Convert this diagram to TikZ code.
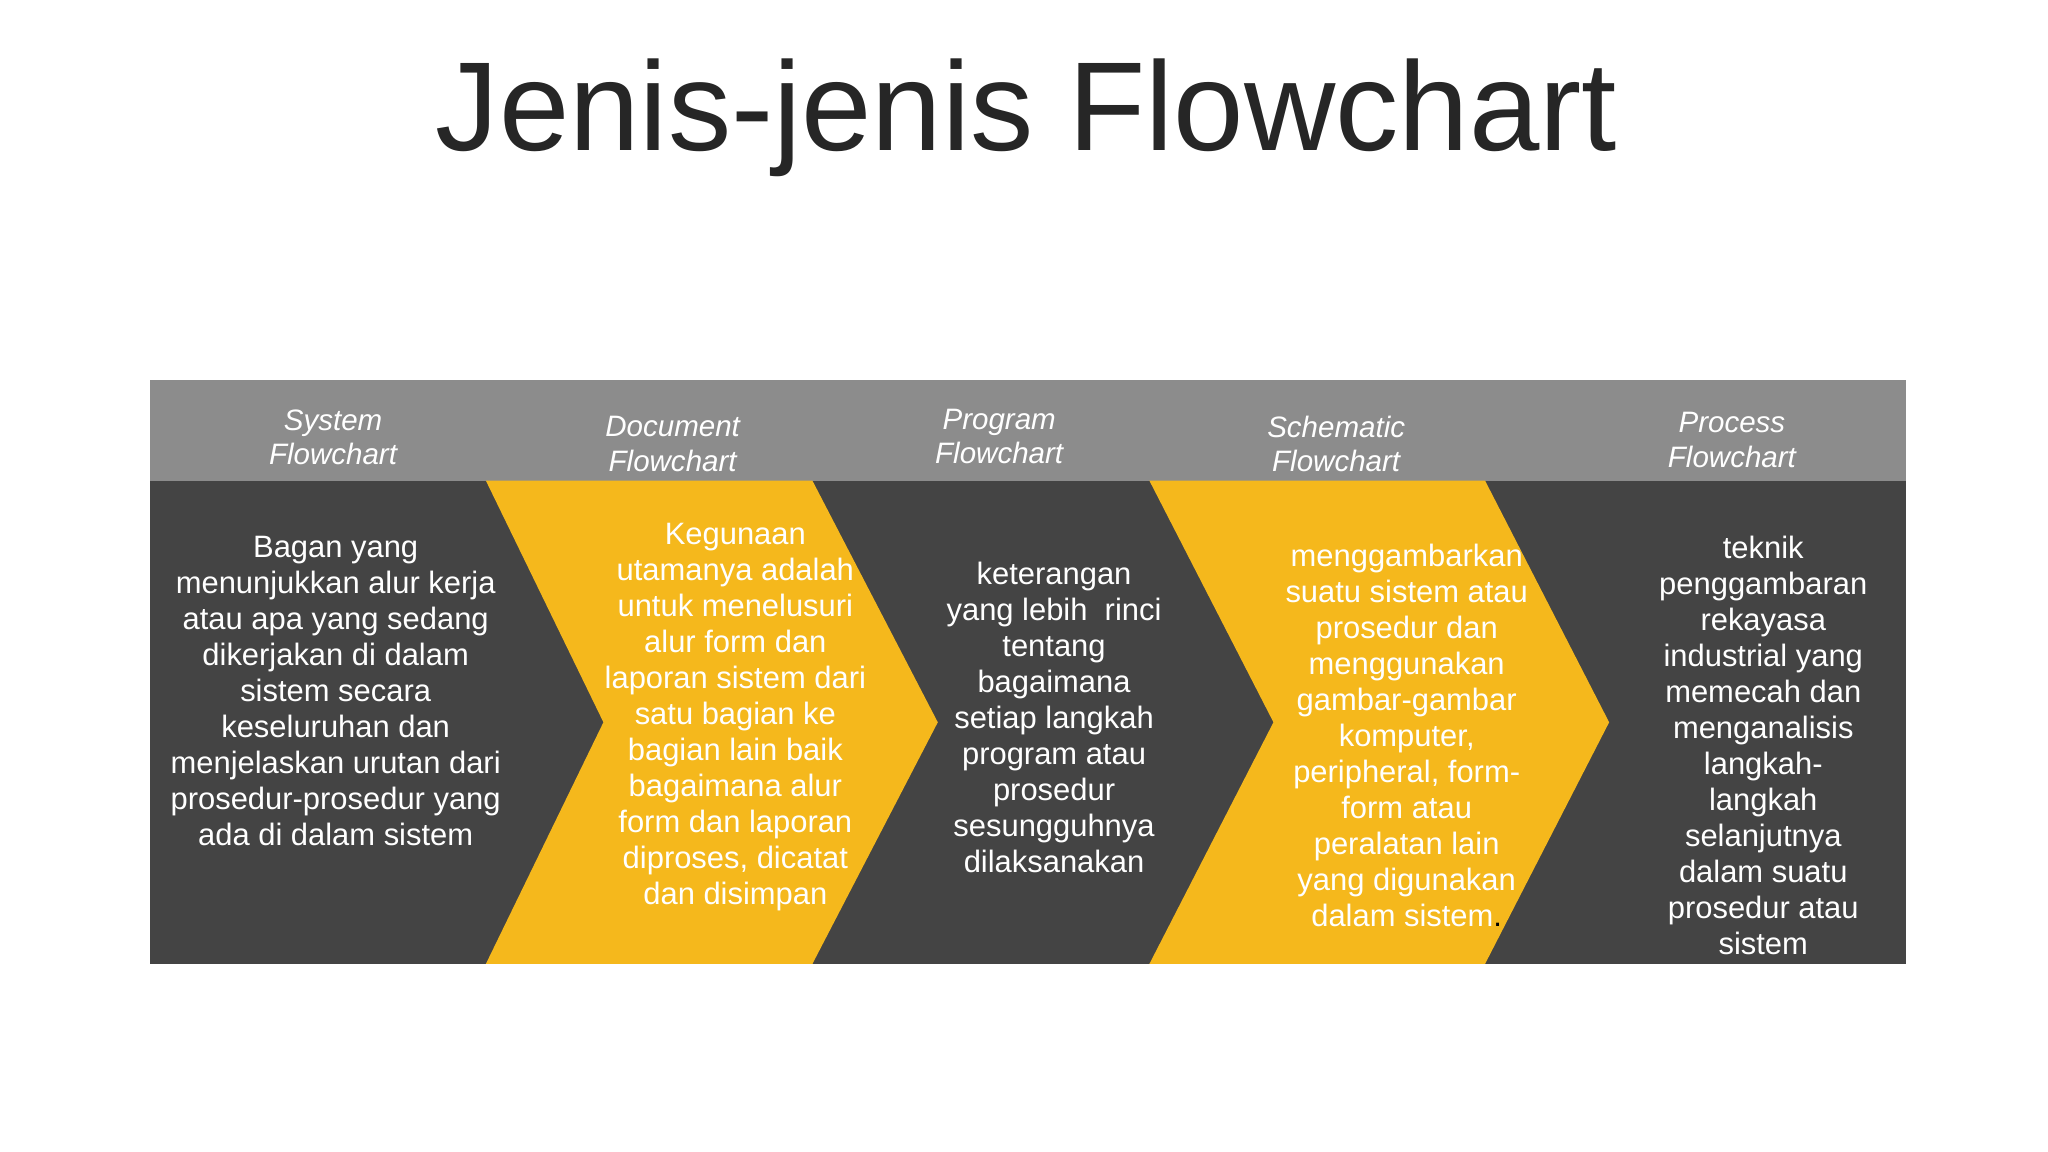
\documentclass[tikz,border=0pt]{standalone}
\usepackage{fontspec}
\setmainfont{Liberation Sans}
\definecolor{dk}{HTML}{444444}
\definecolor{hd}{HTML}{8C8C8C}
\definecolor{yl}{HTML}{F5B81C}
\definecolor{tt}{HTML}{262626}
\begin{document}
\begin{tikzpicture}[x=0.013061cm,y=-0.013061cm,
  hdr/.style={text=white,font=\fontsize{8.4}{9.8}\selectfont\itshape,align=center},
  body/.style={text=white,font=\fontsize{8.8}{10.25}\selectfont,align=center}]
\useasboundingbox (0,0) rectangle (1568,882);
\fill[white] (0,0) rectangle (1568,882);
\node[text=tt,font=\fontsize{36}{40}\selectfont] (title) at (786,90) {Jenis-jenis Flowchart};
\fill[hd] (115,291) rectangle (1459,368);
\fill[dk] (115,368) rectangle (1459,738);
\fill[yl] (372,368) -- (622,368) -- (718,553) -- (622,738) -- (372,738) -- (462,553) -- cycle;
\fill[yl] (880,368) -- (1137,368) -- (1232,553) -- (1137,738) -- (880,738) -- (975,553) -- cycle;
\node[hdr] (h1) at (255,335) {System\\Flowchart};
\node[hdr] (h2) at (515,340) {Document\\Flowchart};
\node[hdr] (h3) at (765,334) {Program\\Flowchart};
\node[hdr] (h4) at (1023,340) {Schematic\\Flowchart};
\node[hdr] (h5) at (1326,337) {Process\\Flowchart};
\node[body] (b1) at (257,529) {Bagan yang\\menunjukkan alur kerja\\atau apa yang sedang\\dikerjakan di dalam\\sistem secara\\keseluruhan dan\\menjelaskan urutan dari\\prosedur-prosedur yang\\ada di dalam sistem};
\node[body] (b2) at (563,549) {Kegunaan\\utamanya adalah\\untuk menelusuri\\alur form dan\\laporan sistem dari\\satu bagian ke\\bagian lain baik\\bagaimana alur\\form dan laporan\\diproses, dicatat\\dan disimpan};
\node[body] (b3) at (807,549) {keterangan\\yang lebih~~rinci\\tentang\\bagaimana\\setiap langkah\\program atau\\prosedur\\sesungguhnya\\dilaksanakan};
\node[body] (b4) at (1077,563) {menggambarkan\\suatu sistem atau\\prosedur dan\\menggunakan\\gambar-gambar\\komputer,\\peripheral, form-\\form atau\\peralatan lain\\yang digunakan\\dalam sistem{\color{black}.}};
\node[body] (b5) at (1350,571) {teknik\\penggambaran\\rekayasa\\industrial yang\\memecah dan\\menganalisis\\langkah-\\langkah\\selanjutnya\\dalam suatu\\prosedur atau\\sistem};
\end{tikzpicture}
\end{document}
